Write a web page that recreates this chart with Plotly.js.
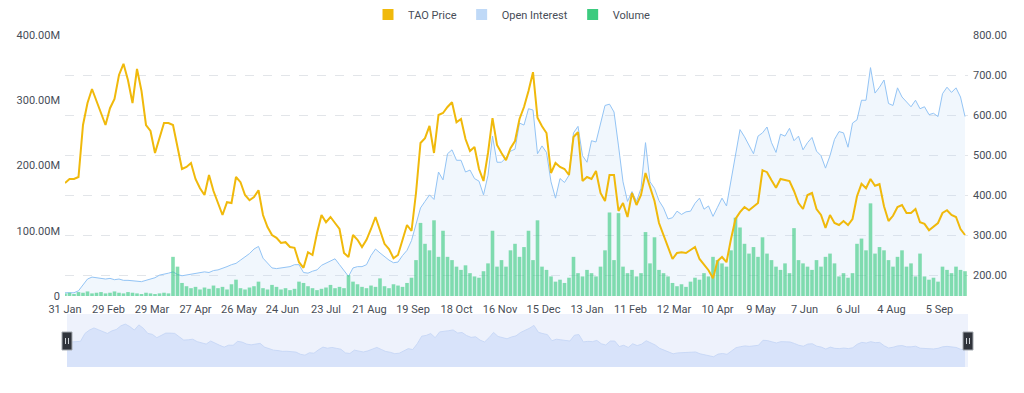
<!DOCTYPE html>
<html><head><meta charset="utf-8">
<script src="https://cdn.plot.ly/plotly-3.0.1.min.js"></script>
<style>html,body{margin:0;padding:0;background:#fff;}#chart{width:1024px;height:393px;}</style>
</head><body><div id="chart"></div>
<script>
const startDate = '2024-01-31';
const stepDays = 3;

const price = [
430,440,440,445,575,630,665,635,600,575,
617,640,700,728,687,630,715,660,575,560,
505,545,580,580,575,520,465,470,480,440,
417,400,450,410,380,350,382,380,445,432,
400,387,395,412,350,320,300,293,280,282,
270,268,232,218,257,250,305,350,332,345,
330,315,255,245,300,288,270,288,315,345,
312,278,265,242,250,285,325,310,405,530,
542,573,505,600,605,620,632,582,590,540,
510,520,465,435,505,592,525,505,487,517,
535,590,620,660,707,593,572,555,455,480,
470,465,450,545,557,435,445,440,460,405,
385,450,450,360,380,345,405,375,400,455,
420,385,330,300,270,240,255,257,255,262,
270,240,225,212,192,235,245,232,290,340,
357,370,362,372,380,462,457,437,418,440,
437,435,410,380,365,400,405,365,350,318,
350,330,325,335,325,340,397,428,417,440,
423,427,372,335,348,370,375,355,355,365,
332,328,312,320,330,355,362,350,345,315,
300
];

const openInterestM = [
5,5,5,8,18,26,29,28,27,26,
27,25,26,24,24,23,22,22,24,26,
28,32,33,35,37,33,31,32,34,35,
35,37,36,39,40,42,45,48,50,55,
60,65,72,76,58,50,43,42,43,44,
45,48,48,36,35,38,40,47,50,54,
57,48,38,30,43,45,45,48,62,72,
66,60,55,51,52,62,70,85,110,135,
145,155,148,190,178,218,224,208,208,190,
193,180,176,155,185,245,205,205,212,222,
225,265,262,287,285,218,230,220,175,150,
180,174,185,250,260,215,205,238,236,262,
292,294,282,230,175,145,160,145,165,235,
175,165,146,135,118,120,130,125,129,130,
142,150,133,138,122,136,150,138,178,215,
255,244,230,218,245,250,259,235,220,248,
245,257,238,245,224,235,243,222,215,196,
215,240,252,250,228,265,270,300,300,350,
311,320,331,295,292,319,305,297,290,300,
287,290,278,280,275,310,320,312,319,305,
275
];

const volumeM = [
4,5,3,6,5,7,4,5,6,4,
5,7,5,4,6,5,4,3,5,4,
3,4,5,4,60,45,20,15,12,14,
10,13,11,16,12,14,10,18,25,12,
10,13,15,22,12,10,17,14,10,12,
9,11,22,20,15,12,9,11,13,17,
12,14,12,32,22,18,14,12,16,14,
27,15,12,18,16,14,20,28,55,112,
80,70,116,60,100,60,55,45,40,47,
35,30,28,38,50,100,45,55,45,70,
80,60,75,100,55,116,45,40,30,22,
25,20,28,60,35,30,40,35,30,45,
70,128,55,127,45,35,40,30,35,98,
50,90,40,35,30,20,15,18,14,22,
28,25,35,30,60,55,50,45,70,120,
105,80,65,75,60,90,65,55,45,40,
50,35,104,55,50,45,40,55,45,60,
65,50,30,35,28,35,80,88,70,142,
65,75,70,55,45,60,70,45,50,30,
65,30,25,28,22,45,40,35,45,40,
38
];

const tickDates = ['2024-01-31','2024-02-29','2024-03-29','2024-04-27','2024-05-26','2024-06-24','2024-07-23','2024-08-21','2024-09-19','2024-10-18','2024-11-16','2024-12-15','2025-01-13','2025-02-11','2025-03-12','2025-04-10','2025-05-09','2025-06-07','2025-07-06','2025-08-04','2025-09-05'];
const tickLabels = ['31 Jan','29 Feb','29 Mar','27 Apr','26 May','24 Jun','23 Jul','21 Aug','19 Sep','18 Oct','16 Nov','15 Dec','13 Jan','11 Feb','12 Mar','10 Apr','9 May','7 Jun','6 Jul','4 Aug','5 Sep'];
const leftTickVals = [0,100,200,300,400];
const leftTickText = ['0','100.00M','200.00M','300.00M','400.00M'];
const rightTickVals = [200,300,400,500,600,700,800];
const rightTickText = ['200.00','300.00','400.00','500.00','600.00','700.00','800.00'];
const seriesNames = ['TAO Price','Open Interest','Volume'];
const seriesColors = ['#F0B90B','#BFD9F7','#3CCB7F'];

function addDays(iso, n){const d=new Date(iso+'T00:00:00Z');d.setUTCDate(d.getUTCDate()+n);return d.toISOString().slice(0,10);}
const dates = price.map((_,i)=>addDays(startDate,i*stepDays));
const xEnd = addDays(dates[dates.length-1],2);
const dayMs = 86400000;

const font = {family:'Roboto, "Noto Sans", sans-serif', size:11, color:'#474d57'};

const traces = [
  {x:dates, y:openInterestM, type:'scatter', mode:'lines', xaxis:'x', yaxis:'y',
   line:{color:'#93c4f5', width:1}, fill:'tozeroy', fillcolor:'rgba(190,218,248,0.22)',
   showlegend:false, hoverinfo:'skip'},
  {x:dates, y:volumeM, type:'bar', xaxis:'x', yaxis:'y2',
   marker:{color:'rgba(52,200,124,0.6)', line:{width:0}}, width:stepDays*dayMs*0.8,
   showlegend:false, hoverinfo:'skip'},
  {x:dates, y:price, type:'scatter', mode:'lines', xaxis:'x', yaxis:'y3',
   line:{color:'#F0B90B', width:2}, showlegend:false, hoverinfo:'skip'},
  {x:dates, y:price, type:'scatter', mode:'lines', xaxis:'x2', yaxis:'y4',
   line:{color:'#c3d4f5', width:0.8}, fill:'tozeroy', fillcolor:'#d8e3fa',
   showlegend:false, hoverinfo:'skip'}
];
seriesNames.forEach((n,i)=>{
  traces.push({x:[null], y:[null], type:'scatter', mode:'markers', name:n,
    marker:{symbol:'square', size:11, color:seriesColors[i]}, xaxis:'x', yaxis:'y', hoverinfo:'skip'});
});

const H = 332;
const mainBottom = (367-296)/H;
const sliderTop = (367-314)/H;
const hx0 = 2/903;
const hy = (367-341)/H;

function handle(xa){
  return [
    {type:'rect', xref:'paper', yref:'paper', xsizemode:'pixel', ysizemode:'pixel', xanchor:xa, yanchor:hy,
     x0:-5, x1:5, y0:-9, y1:9, fillcolor:'#30343b', line:{color:'#a4a9b0', width:1}},
    {type:'line', xref:'paper', yref:'paper', xsizemode:'pixel', ysizemode:'pixel', xanchor:xa, yanchor:hy,
     x0:-1.5, x1:-1.5, y0:-3, y1:3, line:{color:'#d0d4d9', width:1}},
    {type:'line', xref:'paper', yref:'paper', xsizemode:'pixel', ysizemode:'pixel', xanchor:xa, yanchor:hy,
     x0:1.5, x1:1.5, y0:-3, y1:3, line:{color:'#d0d4d9', width:1}}
  ];
}

const layout = {
  width:1024, height:393,
  margin:{l:65, r:56, t:35, b:26, autoexpand:false},
  paper_bgcolor:'#ffffff', plot_bgcolor:'rgba(0,0,0,0)',
  font:font,
  barmode:'overlay',
  showlegend:true,
  legend:{orientation:'h', x:0.5, xanchor:'center', xref:'container', y:1.0, yanchor:'top', yref:'container',
          font:font, itemclick:false, itemdoubleclick:false, bgcolor:'rgba(0,0,0,0)', tracegroupgap:0},
  xaxis:{type:'date', domain:[0,1], anchor:'y', range:[dates[0], xEnd],
         tickvals:tickDates, ticktext:tickLabels, tickangle:0, showgrid:false, zeroline:false,
         showline:false, ticks:'', tickfont:font, fixedrange:true, ticklabelstandoff:5},
  yaxis:{domain:[mainBottom,1], range:[0,400], tickvals:leftTickVals, ticktext:leftTickText,
         showgrid:false, zeroline:false, showline:false, ticks:'', tickfont:font, fixedrange:true,
         ticklabelstandoff:4},
  yaxis2:{overlaying:'y', range:[0,400], visible:false, fixedrange:true},
  yaxis3:{overlaying:'y', side:'right', range:[147.5,800], tickvals:rightTickVals, ticktext:rightTickText,
          showgrid:true, gridcolor:'#e2e5e9', griddash:'dash', gridwidth:1, zeroline:false,
          showline:false, ticks:'', tickfont:font, fixedrange:true, ticklabelstandoff:4},
  xaxis2:{type:'date', domain:[hx0,1], anchor:'y4', range:[dates[0], xEnd], visible:false, fixedrange:true},
  yaxis4:{domain:[0,sliderTop], anchor:'x2', range:[23,894], visible:false, fixedrange:true},
  shapes:[
    {type:'rect', xref:'paper', yref:'paper', x0:hx0, x1:1, y0:0, y1:sliderTop,
     fillcolor:'#eef2fc', line:{width:0}, layer:'below'}
  ].concat(handle(hx0)).concat(handle(1))
};

Plotly.newPlot('chart', traces, layout, {staticPlot:true, displayModeBar:false});
</script>
</body></html>
